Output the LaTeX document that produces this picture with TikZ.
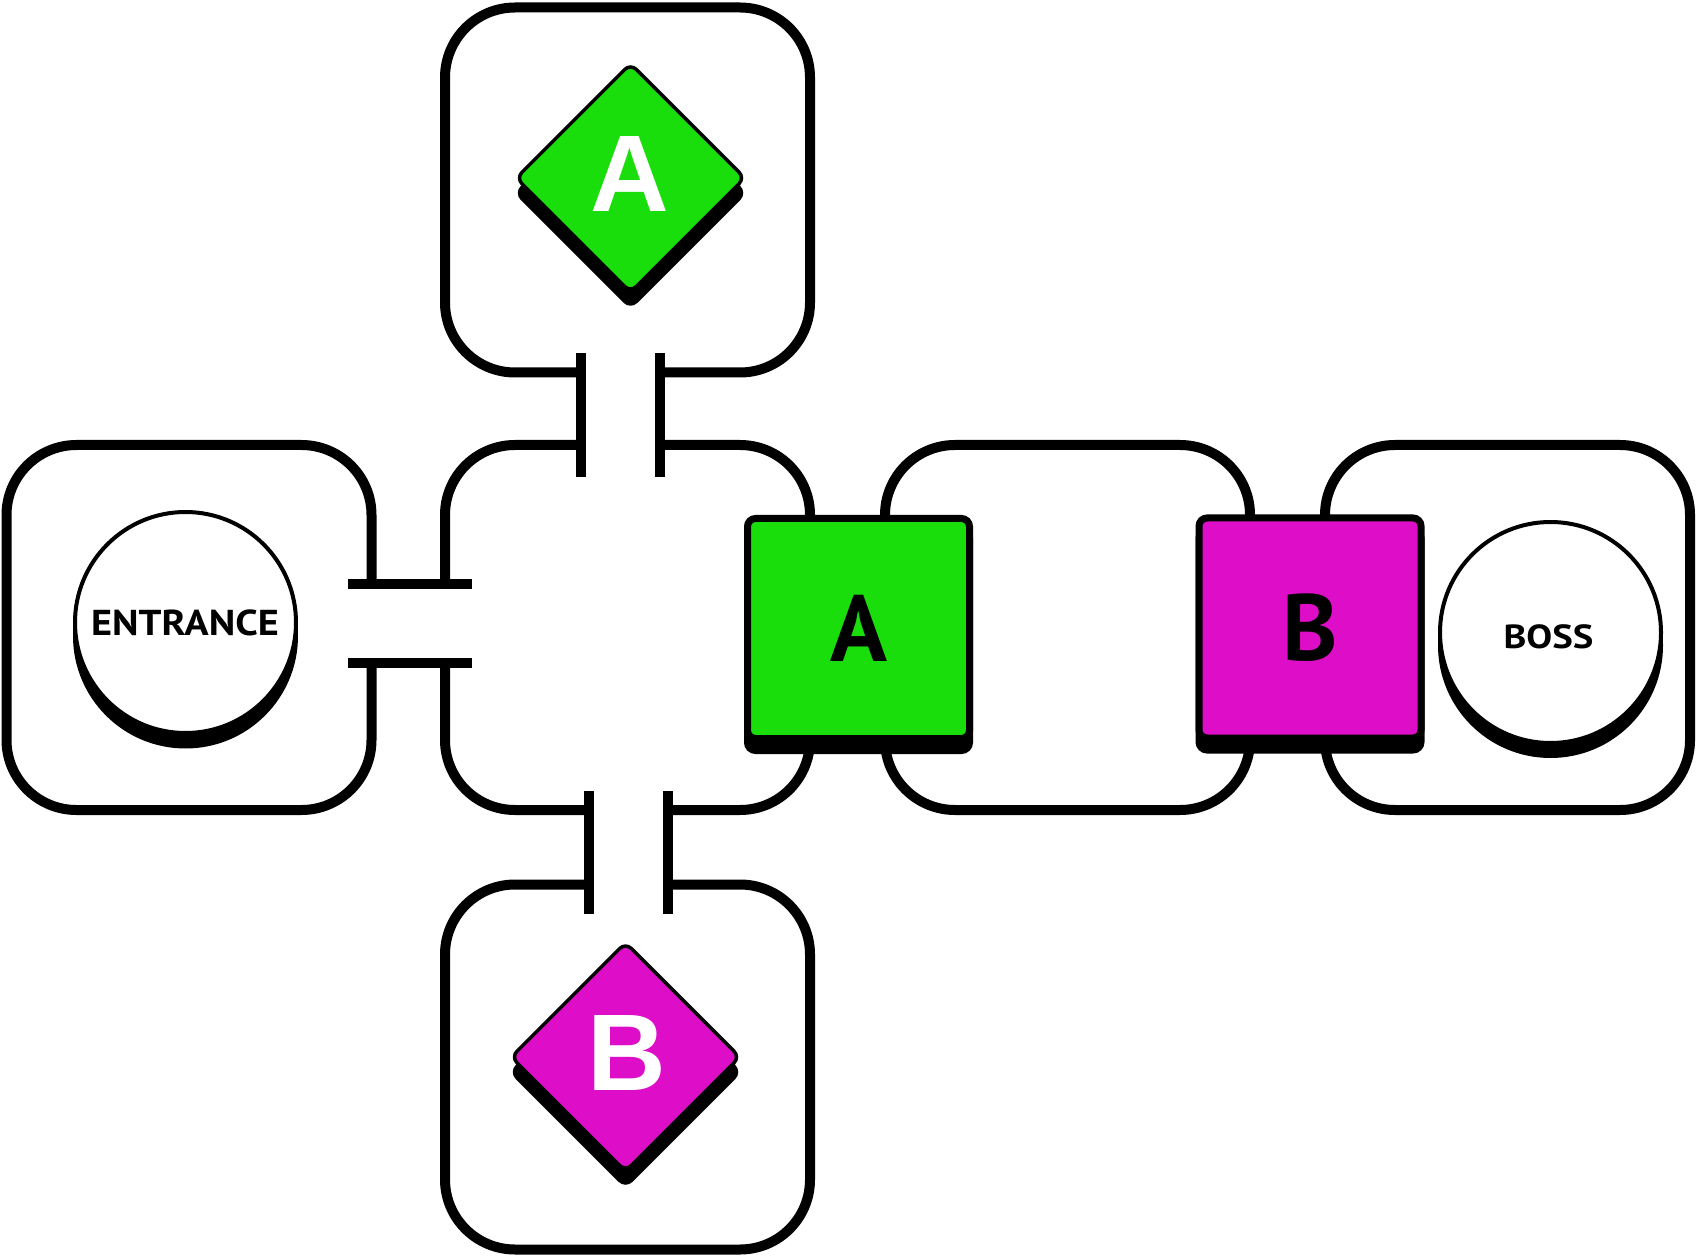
\documentclass[tikz,border=0pt]{standalone}
\usepackage{fontspec}
\usetikzlibrary{shapes.geometric}
\newfontfamily\helvb{Liberation Sans}[BoldFont={Liberation Sans Bold}]
\newfontfamily\dinf{PT Sans}[BoldFont={PT Sans Bold}]
\definecolor{keygreen}{RGB}{26,222,12}
\definecolor{keymag}{RGB}{222,14,200}
\begin{document}
\begin{tikzpicture}[x=0.5pt,y=-0.5pt,
  room/.style={draw=black, line width=5pt, rounded corners=35pt, fill=white,
    minimum width=182.5pt, minimum height=182.5pt, inner sep=0pt},
  wall/.style={draw=black, line width=5pt},
  gap/.style={fill=white, draw=none},
  door/.style={draw=black, line width=3.5pt, rounded corners=4pt,
    minimum width=111pt, minimum height=110pt, inner sep=0pt,
    font=\dinf\bfseries\fontsize{47pt}{52pt}\selectfont},
  keyshape/.style={diamond, aspect=1, draw=black, line width=1.75pt, rounded corners=4pt,
    minimum width=115pt, minimum height=115pt, inner sep=0pt},
  keylabel/.style={text=white, inner sep=0pt,
    font=\helvb\bfseries\fontsize{54.5pt}{60pt}\selectfont},
  marker/.style={circle, draw=black, line width=2pt, fill=white,
    minimum size=110.5pt, inner sep=0pt},
  shade/.style={fill=black},
  markerlabel/.style={inner sep=0pt, font=\dinf\bfseries\fontsize{18pt}{20pt}\selectfont},
]
\useasboundingbox (0,0) rectangle (1696,1256);
\fill[white] (0,0) rectangle (1696,1256);

% rooms
\node[room] (toproom)    at (627.5,190)   {};
\node[room] (entryroom)  at (189,627.5)   {};
\node[room] (hubroom)    at (627.5,627.5) {};
\node[room] (bottomroom) at (627.5,1067)  {};
\node[room] (midroom)    at (1067.5,627.5){};
\node[room] (bossroom)   at (1507.5,627.5){};

% openings in the walls
\path[gap] (586,362) rectangle (655,455);
\path[gap] (358,589) rectangle (458,658);
\path[gap] (594,800) rectangle (663,895);

% corridors
\draw[wall] (581,353) -- (581,477);
\draw[wall] (660,353) -- (660,477);
\draw[wall] (348,584) -- (472,584);
\draw[wall] (348,663) -- (472,663);
\draw[wall] (589,791) -- (589,914);
\draw[wall] (668,791) -- (668,914);

% locked doors
\node[door, shade] (doorAshadow) at (858.5,640.5) {};
\node[door, fill=keygreen] (doorA) at (858.5,628.5) {A};
\node[door, shade] (doorBshadow) at (1310,640) {};
\node[door, fill=keymag]   (doorB) at (1310,628)    {B};

% entrance and boss
\node[marker, shade] (entranceshadow) at (185.5,636) {};
\node[marker] (entrance) at (185.5,622.5) {};
\node[markerlabel] (entrancetext) at (185,622.5) {\scalebox{1.12}[1]{ENTRANCE}};
\node[marker, shade] (bossshadow) at (1550.5,645.5) {};
\node[marker] (boss) at (1550.5,632.5) {};
\node[markerlabel, font=\dinf\bfseries\fontsize{16.7pt}{19pt}\selectfont] (bosstext) at (1548.5,636.5) {\scalebox{1.16}[1]{BOSS}};

% keys
\node[keyshape, shade] (keyAshadow) at (630.5,193) {};
\node[keyshape, fill=keygreen] (keyA) at (630.5,178) {};
\node[keylabel] (keyAtext) at (630,174) {A};
\node[keyshape, shade] (keyBshadow) at (625.5,1072) {};
\node[keyshape, fill=keymag] (keyB) at (625.5,1057) {};
\node[keylabel] (keyBtext) at (626.5,1053) {B};
\end{tikzpicture}
\end{document}
